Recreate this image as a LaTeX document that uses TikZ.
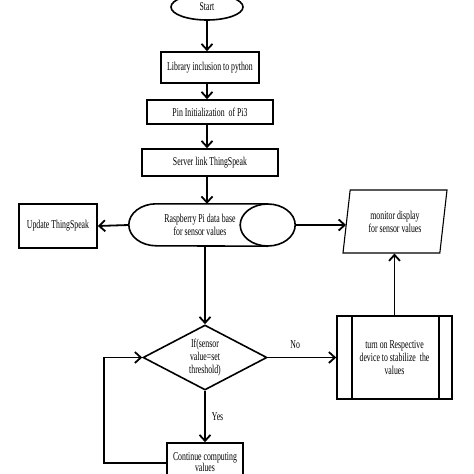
\documentclass[tikz,border=0pt]{standalone}
\usepackage{fontspec}
\setmainfont[FakeStretch=0.65]{Liberation Serif}
\usetikzlibrary{shapes.geometric,arrows.meta}
\begin{document}
\begin{tikzpicture}[x=1pt,y=-1pt,
  box/.style={draw,line width=1.6pt,rectangle,inner sep=1pt,align=center,font=\fontsize{12}{13}\selectfont},
  arr/.style={line width=1.8pt,-{Straight Barb[length=6pt,width=11pt,line width=1.8pt]}},
  lbl/.style={font=\fontsize{12}{13}\selectfont,inner sep=0pt,align=center}]
\useasboundingbox (0,0) rectangle (474,474);
\clip (0,0) rectangle (474,474);
\fill[white] (0,0) rectangle (474,474);
\node[box,ellipse,minimum width=72pt,minimum height=26pt] (start) at (207,7) {Start};
\node[box,minimum width=98pt,minimum height=31pt] (lib) at (210,67.5) {Library inclusion to python};
\node[box,minimum width=126pt,minimum height=24pt] (pin) at (210,112) {Pin Initialization\, of Pi3};
\node[box,minimum width=136pt,minimum height=27pt] (srv) at (210,162.5) {Server link ThingSpeak};
% horizontal cylinder
\node[minimum width=166pt,minimum height=42pt,inner sep=0pt] (cyl) at (212,225) {};
\draw[line width=1.6pt] ([xshift=-27.5pt]cyl.north east) -- ([xshift=27.5pt]cyl.north west)
  arc[start angle=90,end angle=270,x radius=27.5pt,y radius=21pt]
  -- ([xshift=-27.5pt]cyl.south east);
\draw[line width=1.6pt] ([xshift=-27.5pt]cyl.east) ellipse[x radius=27.5pt,y radius=21pt];
\node[lbl] (cyltxt) at (200,225) {Raspberry Pi data base\\for sensor values};
\node[box,minimum width=78pt,minimum height=44pt] (upd) at (58,226) {Update ThingSpeak};
\node[box,trapezium,trapezium left angle=73,trapezium right angle=107,trapezium stretches body,line width=1.1pt,minimum width=104pt,minimum height=63pt] (mon) at (395,221.5) {monitor display\\for sensor values};
\node[box,diamond,aspect=1.9,inner sep=0pt,minimum width=124pt,minimum height=65pt] (dec) at (205,357.5) {If(sensor\\value=set\\threshold)};
\node[box,minimum width=115pt,minimum height=83pt] (turn) at (394.5,357.5) {turn on Respective\\device to stabilize\, the\\values};
\draw[line width=1.6pt] ([xshift=16pt]turn.north west) -- ([xshift=16pt]turn.south west);
\draw[line width=1.6pt] ([xshift=-14pt]turn.north east) -- ([xshift=-14pt]turn.south east);
\node[box,minimum width=76pt,minimum height=46pt] (cont) at (205,466) {};
\node[lbl,font=\fontsize{12}{11}\selectfont] (conttxt) at (205,462.5) {Continue computing\\values};
\coordinate (lp) at (104,0);
\draw[arr] (start.south) -- (start.south |- lib.north);
\draw[arr] (lib.south -| start) -- (pin.north -| start);
\draw[arr] (pin.south -| start) -- (srv.north -| start);
\draw[arr] (srv.south -| start) -- (cyl.north -| start);
\draw[arr] (cyl.west) -- (upd.east);
\draw[arr] (cyl.east) -- (cyl.east -| mon.west);
\draw[arr] (dec.north |- cyl.south) -- (dec.north);
\draw[arr] (dec.east) -- (turn.west) node[lbl,pos=0.4,above=8pt] {No};
\draw[arr] (dec.south) -- (dec.south |- cont.north) node[lbl,pos=0.5,right=6pt] {Yes};
\draw[arr] (turn.north) -- (turn.north |- mon.south);
\draw[arr] ([yshift=3pt]cont.west) -| (lp |- dec.west) -- (dec.west);
\end{tikzpicture}
\end{document}
